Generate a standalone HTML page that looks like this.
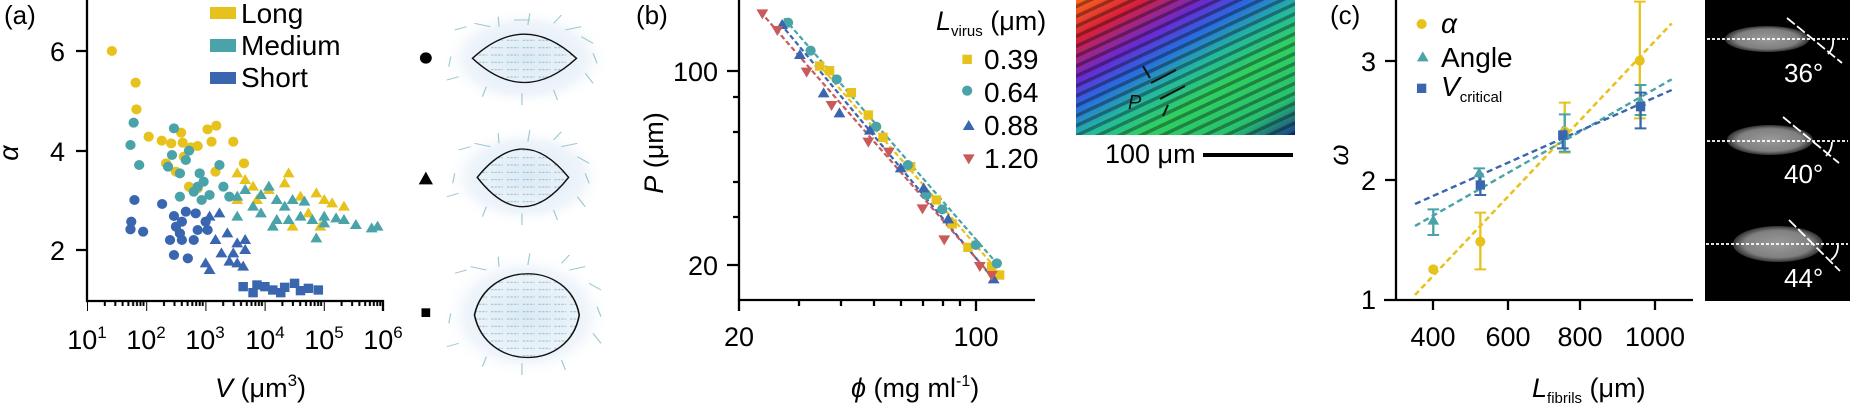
<!DOCTYPE html>
<html><head><meta charset="utf-8"><style>
html,body{margin:0;padding:0;background:#fff}
svg{display:block;font-family:"Liberation Sans",sans-serif}
</style></head><body>
<svg width="1850" height="406" viewBox="0 0 1850 406" xmlns="http://www.w3.org/2000/svg">
<defs>
<path id="tu" d="M0,-18 L15,12 L-15,12Z"/>
<path id="td" d="M0,18 L15,-12 L-15,-12Z"/>
<rect id="sq" x="-12" y="-14" width="24" height="28"/>
<ellipse id="ci" rx="13" ry="15"/>
<pattern id="minA" x="87" y="0" width="59.2" height="20" patternUnits="userSpaceOnUse">
<path d="M17.8,0V6M28.3,0V6M35.6,0V6M41.4,0V6M46.1,0V6M50,0V6M53.5,0V6M56.5,0V6M0,0V11" stroke="#000" stroke-width="2"/>
</pattern>
<radialGradient id="halo"><stop offset="0" stop-color="#dce9f5"/><stop offset="0.7" stop-color="#eef4fa"/><stop offset="1" stop-color="#fff" stop-opacity="0"/></radialGradient>
<pattern id="dash" width="40" height="22" patternUnits="userSpaceOnUse"><path d="M2,11H32" stroke="#8cc0c6" stroke-width="3" stroke-dasharray="6 3"/></pattern>
<linearGradient id="rb" x1="0" y1="0" x2="1" y2="1">
<stop offset="0" stop-color="#ff6a1a"/><stop offset="0.15" stop-color="#d8203a"/><stop offset="0.3" stop-color="#6a2ad0"/><stop offset="0.4" stop-color="#2a6ae0"/><stop offset="0.52" stop-color="#24b8a0"/><stop offset="0.65" stop-color="#30d060"/><stop offset="0.85" stop-color="#28c070"/><stop offset="1" stop-color="#1a3a8a"/></linearGradient>
<pattern id="str" width="300" height="9" patternUnits="userSpaceOnUse" patternTransform="rotate(-25)"><rect width="300" height="3.5" fill="#000" opacity="0.35"/></pattern>
<radialGradient id="gr"><stop offset="0" stop-color="#9a9a9a"/><stop offset="0.75" stop-color="#808080"/><stop offset="1" stop-color="#333"/></radialGradient>
</defs>

<!-- Panel a -->
<text x="4" y="24" font-size="26">(a)</text>
<path d="M87,0V301H384" fill="none" stroke="#000" stroke-width="2.3"/>
<rect x="87" y="300" width="297" height="12" fill="url(#minA)"/>
<path d="M383,300V311M76,51H87M76,151H87M76,250H87" stroke="#000" stroke-width="2.3"/>
<g font-size="27" text-anchor="end"><text x="65" y="61">6</text><text x="65" y="161">4</text><text x="65" y="260">2</text></g>
<g font-size="27" text-anchor="middle">
<text x="87" y="349">10<tspan font-size="17" dy="-11">1</tspan></text>
<text x="146" y="349">10<tspan font-size="17" dy="-11">2</tspan></text>
<text x="205" y="349">10<tspan font-size="17" dy="-11">3</tspan></text>
<text x="265" y="349">10<tspan font-size="17" dy="-11">4</tspan></text>
<text x="324" y="349">10<tspan font-size="17" dy="-11">5</tspan></text>
<text x="383" y="349">10<tspan font-size="17" dy="-11">6</tspan></text>
</g>
<text x="215" y="397" font-size="27"><tspan font-style="italic">V</tspan> (μm<tspan font-size="17" dy="-11">3</tspan><tspan dy="11">)</tspan></text>
<text transform="translate(18,153) rotate(-90)" font-size="27" font-style="italic" text-anchor="middle">α</text>
<rect x="210" y="7" width="26" height="12" fill="#E8C21C"/><rect x="210" y="39" width="26" height="13" fill="#4AA3A8"/><rect x="210" y="72" width="26" height="12" fill="#3A66B0"/>
<g font-size="28"><text x="241" y="23">Long</text><text x="241" y="55">Medium</text><text x="241" y="87">Short</text></g>
<g transform="scale(0.3954,0.33333)">
<g fill="#E8C21C">
<use href="#ci" x="283" y="153"/><use href="#ci" x="343" y="248"/><use href="#ci" x="345" y="328"/><use href="#ci" x="376" y="410"/><use href="#ci" x="409" y="422"/><use href="#ci" x="433" y="430"/><use href="#ci" x="458" y="398"/><use href="#ci" x="462" y="428"/><use href="#ci" x="483" y="442"/><use href="#ci" x="500" y="438"/><use href="#ci" x="525" y="388"/><use href="#ci" x="547" y="377"/><use href="#ci" x="535" y="425"/><use href="#ci" x="590" y="425"/><use href="#ci" x="617" y="490"/><use href="#ci" x="420" y="490"/><use href="#ci" x="445" y="515"/><use href="#ci" x="478" y="560"/><use href="#ci" x="500" y="565"/><use href="#ci" x="545" y="515"/><use href="#ci" x="465" y="470"/>
<use href="#tu" x="600" y="520"/><use href="#tu" x="620" y="540"/><use href="#tu" x="640" y="560"/><use href="#tu" x="680" y="570"/><use href="#tu" x="730" y="520"/><use href="#tu" x="720" y="550"/><use href="#tu" x="760" y="590"/><use href="#tu" x="800" y="580"/><use href="#tu" x="820" y="600"/><use href="#tu" x="840" y="610"/><use href="#tu" x="870" y="620"/><use href="#tu" x="700" y="600"/><use href="#tu" x="780" y="640"/><use href="#tu" x="810" y="680"/><use href="#tu" x="740" y="680"/><use href="#tu" x="650" y="600"/><use href="#tu" x="600" y="600"/>
</g>
<g fill="#4AA3A8">
<use href="#ci" x="338" y="368"/><use href="#ci" x="330" y="435"/><use href="#ci" x="352" y="495"/><use href="#ci" x="440" y="385"/><use href="#ci" x="435" y="465"/><use href="#ci" x="425" y="500"/><use href="#ci" x="455" y="520"/><use href="#ci" x="478" y="452"/><use href="#ci" x="470" y="480"/><use href="#ci" x="505" y="520"/><use href="#ci" x="515" y="545"/><use href="#ci" x="500" y="560"/><use href="#ci" x="555" y="495"/><use href="#ci" x="455" y="590"/><use href="#ci" x="490" y="575"/><use href="#ci" x="530" y="585"/><use href="#ci" x="510" y="600"/><use href="#ci" x="565" y="560"/><use href="#ci" x="580" y="590"/>
<use href="#tu" x="600" y="590"/><use href="#tu" x="620" y="570"/><use href="#tu" x="660" y="585"/><use href="#tu" x="680" y="560"/><use href="#tu" x="700" y="600"/><use href="#tu" x="640" y="620"/><use href="#tu" x="660" y="640"/><use href="#tu" x="720" y="620"/><use href="#tu" x="740" y="600"/><use href="#tu" x="770" y="605"/><use href="#tu" x="700" y="660"/><use href="#tu" x="730" y="660"/><use href="#tu" x="760" y="650"/><use href="#tu" x="790" y="660"/><use href="#tu" x="820" y="650"/><use href="#tu" x="850" y="655"/><use href="#tu" x="870" y="660"/><use href="#tu" x="900" y="675"/><use href="#tu" x="940" y="685"/><use href="#tu" x="955" y="680"/><use href="#tu" x="800" y="715"/><use href="#tu" x="690" y="680"/><use href="#tu" x="600" y="650"/><use href="#tu" x="820" y="670"/>
</g>
<g fill="#3A66B0">
<use href="#ci" x="340" y="600"/><use href="#ci" x="332" y="665"/><use href="#ci" x="330" y="688"/><use href="#ci" x="362" y="695"/><use href="#ci" x="410" y="612"/><use href="#ci" x="440" y="648"/><use href="#ci" x="445" y="680"/><use href="#ci" x="470" y="635"/><use href="#ci" x="495" y="640"/><use href="#ci" x="460" y="665"/><use href="#ci" x="520" y="665"/><use href="#ci" x="430" y="720"/><use href="#ci" x="460" y="720"/><use href="#ci" x="490" y="720"/><use href="#ci" x="440" y="765"/><use href="#ci" x="475" y="775"/><use href="#ci" x="525" y="690"/><use href="#ci" x="455" y="700"/><use href="#ci" x="500" y="690"/>
<use href="#tu" x="530" y="650"/><use href="#tu" x="555" y="640"/><use href="#tu" x="575" y="700"/><use href="#tu" x="545" y="720"/><use href="#tu" x="600" y="730"/><use href="#tu" x="620" y="720"/><use href="#tu" x="560" y="760"/><use href="#tu" x="590" y="760"/><use href="#tu" x="520" y="790"/><use href="#tu" x="530" y="810"/><use href="#tu" x="600" y="790"/><use href="#tu" x="615" y="800"/><use href="#tu" x="580" y="785"/><use href="#tu" x="620" y="750"/>
<use href="#sq" x="615" y="860"/><use href="#sq" x="650" y="855"/><use href="#sq" x="670" y="860"/><use href="#sq" x="690" y="870"/><use href="#sq" x="720" y="862"/><use href="#sq" x="745" y="850"/><use href="#sq" x="780" y="865"/><use href="#sq" x="805" y="870"/><use href="#sq" x="640" y="878"/><use href="#sq" x="710" y="878"/><use href="#sq" x="760" y="872"/>
</g>
<!-- schematics -->
<ellipse cx="1077" cy="174" rx="15" ry="17"/><path d="M1077,515 L1095,553 L1059,553Z"/><rect x="1066" y="925" width="22" height="26"/>
<ellipse cx="1330" cy="175" rx="215" ry="150" fill="url(#halo)"/>
<ellipse cx="1330" cy="530" rx="205" ry="150" fill="url(#halo)"/>
<ellipse cx="1330" cy="945" rx="215" ry="190" fill="url(#halo)"/>
<g stroke="#9fc8d0" stroke-width="3">
<path d="M1150,90l30,-10M1260,50l2,30M1340,40l-5,35M1400,70l20,-25M1470,110l30,20M1500,160l10,30M1480,220l20,30M1400,270l10,30M1320,280l0,35M1230,260l-10,30M1160,230l-30,10M1140,170l-5,30M1200,70l40,10M1430,90l40,-10M1300,60l40,0
M1160,450l30,-10M1260,400l2,30M1340,390l-5,35M1400,420l20,-25M1460,470l30,20M1480,520l10,30M1460,590l20,30M1400,630l10,30M1320,640l0,35M1230,620l-10,30M1160,580l-30,10M1150,520l-5,30M1200,430l40,10M1420,440l40,-10
M1150,820l30,-10M1260,770l2,30M1340,760l-5,35M1420,790l20,-25M1490,850l30,20M1510,920l10,30M1500,1000l20,30M1420,1080l10,30M1320,1090l0,35M1230,1070l-10,30M1160,1030l-30,10M1140,940l-5,30M1190,800l40,10M1440,810l40,-10"/>
</g>
<clipPath id="l1"><path d="M1195,175 Q1326,30 1458,175 Q1326,320 1195,175Z"/></clipPath>
<clipPath id="l2"><path d="M1207,532 Q1322,362 1438,532 Q1322,708 1207,532Z"/></clipPath>
<clipPath id="l3"><path d="M1200,945 C1230,780 1440,780 1465,945 C1440,1115 1230,1115 1200,945Z"/></clipPath>
<rect x="1190" y="90" width="280" height="170" fill="url(#dash)" clip-path="url(#l1)"/>
<rect x="1200" y="440" width="250" height="190" fill="url(#dash)" clip-path="url(#l2)"/>
<rect x="1195" y="810" width="280" height="270" fill="url(#dash)" clip-path="url(#l3)"/>
<g fill="none" stroke="#111" stroke-width="4">
<path d="M1195,175 Q1326,30 1458,175 Q1326,320 1195,175Z"/>
<path d="M1207,532 Q1322,362 1438,532 Q1322,708 1207,532Z"/>
<path d="M1200,945 C1230,780 1440,780 1465,945 C1440,1115 1230,1115 1200,945Z"/>
</g>
</g>

<!-- Panel b -->
<text x="636" y="24" font-size="26">(b)</text>
<path d="M739,0V300H1035" fill="none" stroke="#000" stroke-width="2.3"/>
<path d="M739,300V311M976,300V311M799,300V306M841,300V306M874,300V306M901,300V306M923,300V306M943,300V306M960,300V306M727,71H739M727,265H739M733,97H739M733,132H739M733,182H739M733,217H739" stroke="#000" stroke-width="2.3"/>
<g font-size="27">
<text x="718" y="81" text-anchor="end">100</text><text x="718" y="275" text-anchor="end">20</text>
<text x="739" y="346" text-anchor="middle">20</text><text x="976" y="346" text-anchor="middle">100</text>
<text x="851" y="397"><tspan font-style="italic">ϕ</tspan> (mg ml<tspan font-size="16" dy="-11">-1</tspan><tspan dy="11">)</tspan></text>
<text transform="translate(663,153) rotate(-90)" text-anchor="middle"><tspan font-style="italic">P</tspan> (μm)</text>
<text x="936" y="30"><tspan font-style="italic">L</tspan><tspan font-size="15" dy="6">virus</tspan><tspan dy="-6"> (μm)</tspan></text>
<g font-size="28"><text x="984" y="69">0.39</text><text x="984" y="102">0.64</text><text x="984" y="135">0.88</text><text x="984" y="168">1.20</text></g>
</g>
<g transform="translate(620,0) scale(0.3954,0.33333)">
<g fill="none" stroke-width="6" stroke-dasharray="14 8">
<path d="M500,190L965,825" stroke="#E8C21C"/><path d="M415,55L960,800" stroke="#4AA3A8"/><path d="M405,70L950,845" stroke="#3A66B0"/><path d="M355,35L945,835" stroke="#C85A5A"/>
</g>
<g fill="#E8C21C"><use href="#sq" x="505" y="198"/><use href="#sq" x="530" y="212"/><use href="#sq" x="585" y="278"/><use href="#sq" x="628" y="345"/><use href="#sq" x="665" y="412"/><use href="#sq" x="735" y="500"/><use href="#sq" x="800" y="600"/><use href="#sq" x="840" y="672"/><use href="#sq" x="880" y="742"/><use href="#sq" x="940" y="800"/><use href="#sq" x="960" y="825"/><use href="#sq" x="878" y="178"/></g>
<g fill="#4AA3A8"><use href="#ci" x="425" y="68"/><use href="#ci" x="482" y="152"/><use href="#ci" x="548" y="238"/><use href="#ci" x="648" y="380"/><use href="#ci" x="728" y="495"/><use href="#ci" x="775" y="585"/><use href="#ci" x="815" y="628"/><use href="#ci" x="900" y="735"/><use href="#ci" x="953" y="790"/><use href="#ci" x="878" y="272"/></g>
<g fill="#3A66B0"><use href="#tu" x="410" y="75"/><use href="#tu" x="455" y="165"/><use href="#tu" x="515" y="280"/><use href="#tu" x="555" y="340"/><use href="#tu" x="632" y="392"/><use href="#tu" x="710" y="505"/><use href="#tu" x="768" y="565"/><use href="#tu" x="830" y="658"/><use href="#tu" x="945" y="838"/><use href="#tu" x="882" y="378"/></g>
<g fill="#C85A5A"><use href="#td" x="360" y="40"/><use href="#td" x="398" y="90"/><use href="#td" x="472" y="215"/><use href="#td" x="535" y="315"/><use href="#td" x="628" y="425"/><use href="#td" x="680" y="455"/><use href="#td" x="765" y="625"/><use href="#td" x="820" y="718"/><use href="#td" x="910" y="798"/><use href="#td" x="940" y="825"/><use href="#td" x="882" y="475"/></g>
</g>
<!-- photo -->
<rect x="1076" y="0" width="219" height="135" fill="url(#rb)"/>
<rect x="1076" y="0" width="219" height="135" fill="url(#str)"/>
<g stroke="#111" stroke-width="2"><path d="M1151,83L1176,70M1160,99L1185,86M1143,66L1150,78M1168,105L1163,116"/></g>
<text x="1128" y="109" font-size="20" font-style="italic" fill="#111">P</text>
<text x="1105" y="163" font-size="27">100 μm</text>
<rect x="1203" y="153" width="90" height="4" fill="#000"/>

<!-- Panel c -->
<text x="1330" y="24" font-size="26">(c)</text>
<path d="M1396,0V300H1693M1384,300H1396" fill="none" stroke="#000" stroke-width="2.3"/>
<path d="M1385,61H1396M1385,180H1396M1433,300V310M1508,300V310M1580,300V310M1655,300V310" stroke="#000" stroke-width="2.3"/>
<g font-size="27">
<text x="1376" y="71" text-anchor="end">3</text><text x="1376" y="190" text-anchor="end">2</text><text x="1376" y="309" text-anchor="end">1</text>
<text x="1433" y="346" text-anchor="middle">400</text><text x="1508" y="346" text-anchor="middle">600</text><text x="1580" y="346" text-anchor="middle">800</text><text x="1655" y="346" text-anchor="middle">1000</text>
<text x="1532" y="397"><tspan font-style="italic">L</tspan><tspan font-size="15" dy="6">fibrils</tspan><tspan dy="-6"> (μm)</tspan></text>
<text transform="translate(1348,155) rotate(-90)" font-style="italic" text-anchor="middle">ω</text>
<g font-size="28"><text x="1441" y="33" font-style="italic">α</text><text x="1441" y="67">Angle</text>
<text x="1441" y="96" font-style="italic">V<tspan font-size="15" font-style="normal" dy="6">critical</tspan></text></g>
</g>
<g transform="translate(1240,0) scale(0.3889,0.33333)">
<use href="#ci" x="467" y="72" fill="#E8C21C"/><use href="#tu" x="470" y="172" fill="#4AA3A8"/><use href="#sq" x="467" y="265" fill="#3A66B0"/>
<g fill="none" stroke-width="7" stroke-dasharray="16 10">
<path d="M450,885L1110,70" stroke="#E8C21C"/><path d="M450,678L1110,238" stroke="#4AA3A8"/><path d="M450,612L1110,270" stroke="#3A66B0"/>
</g>
<g fill="none" stroke-width="6">
<path stroke="#E8C21C" d="M618,638V808M603,638H633M603,808H633M835,308V458M820,308H850M820,458H850M1028,5V355M1013,5H1043M1013,355H1043"/>
<path stroke="#4AA3A8" d="M497,628V705M482,628H512M482,705H512M615,505V545M600,505H630M835,343V455M820,343H850M820,455H850M1030,255V345M1015,255H1045M1015,345H1045"/>
<path stroke="#3A66B0" d="M618,530V585M603,585H633M830,380V445M815,445H845M1030,278V385M1015,278H1045M1015,385H1045"/>
</g>
<use href="#ci" x="497" y="808" fill="#E8C21C"/><use href="#ci" x="618" y="725" fill="#E8C21C"/><use href="#ci" x="835" y="395" fill="#E8C21C"/><use href="#ci" x="1028" y="182" fill="#E8C21C"/>
<g fill="#4AA3A8"><use href="#tu" x="497" y="662"/><use href="#tu" x="615" y="520"/><use href="#tu" x="835" y="400"/><use href="#tu" x="1030" y="305"/></g>
<g fill="#3A66B0"><use href="#sq" x="618" y="555"/><use href="#sq" x="830" y="405"/><use href="#sq" x="1030" y="320"/></g>
</g>
<!-- images -->
<rect x="1705" y="0" width="145" height="301" fill="#000"/>
<ellipse cx="1767" cy="39" rx="42" ry="13" fill="url(#gr)"/>
<ellipse cx="1770" cy="140" rx="43" ry="15" fill="url(#gr)"/>
<ellipse cx="1778" cy="244" rx="45" ry="18" fill="url(#gr)"/>
<g stroke="#fff" stroke-width="1.8" fill="none">
<path stroke-dasharray="3 2" d="M1707,39H1848M1707,141H1848M1706,244H1848"/>
<path stroke-dasharray="10 3" d="M1787,18L1842,63M1783,117L1839,163M1789,220L1840,271"/>
<path d="M1833,40 Q1834,48 1828,54M1832,142 Q1832,150 1826,156M1838,245 Q1838,255 1831,260"/>
</g>
<g fill="#fff" font-size="26"><text x="1784" y="82">36°</text><text x="1784" y="183">40°</text><text x="1784" y="287">44°</text></g>
</svg>
</body></html>
